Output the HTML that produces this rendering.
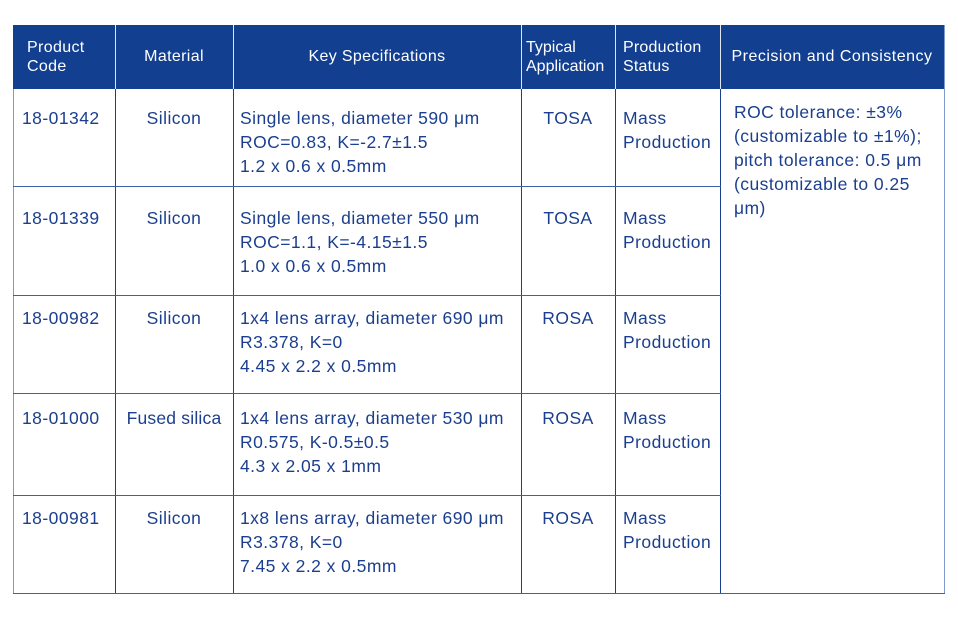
<!DOCTYPE html>
<html><head><meta charset="utf-8"><style>
body{margin:0;width:958px;height:619px;background:#fff;position:relative;font-family:"Liberation Sans",sans-serif;overflow:hidden}
.hd{position:absolute;top:25px;left:13px;width:931px;height:64px;background:#123f8f}
.v{position:absolute;width:1px;background:#1a3f8f}
.h{position:absolute;height:1px;background:#3e62a8}
.t{position:absolute;color:#1b3f8e;font-size:17.5px;letter-spacing:0.45px;line-height:24px;white-space:nowrap}
.w{position:absolute;color:#fff;font-size:16px;letter-spacing:0.35px;line-height:19px;white-space:nowrap}
.c{text-align:center}
</style></head><body>
<div class="hd"></div>
<div class="v" style="left:115px;top:25px;height:64px;background:#dfe6f2"></div>
<div class="v" style="left:233px;top:25px;height:64px;background:#dfe6f2"></div>
<div class="v" style="left:521px;top:25px;height:64px;background:#dfe6f2"></div>
<div class="v" style="left:615px;top:25px;height:64px;background:#dfe6f2"></div>
<div class="v" style="left:720px;top:25px;height:64px;background:#dfe6f2"></div>
<div class="v" style="left:13px;top:89px;height:505px;background:#7f9bcc"></div>
<div class="v" style="left:115px;top:89px;height:505px"></div>
<div class="v" style="left:233px;top:89px;height:505px"></div>
<div class="v" style="left:521px;top:89px;height:505px"></div>
<div class="v" style="left:615px;top:89px;height:505px"></div>
<div class="v" style="left:720px;top:89px;height:505px"></div>
<div class="v" style="left:944px;top:25px;height:569px;background:#7f9bcc"></div>
<div class="h" style="left:13px;top:186px;width:708px"></div>
<div class="h" style="left:13px;top:295px;width:708px"></div>
<div class="h" style="left:13px;top:393px;width:708px"></div>
<div class="h" style="left:13px;top:495px;width:708px"></div>
<div class="h" style="left:13px;top:593px;width:932px"></div>
<div class="w" style="left:27px;top:38px">Product<br>Code</div>
<div class="w c" style="left:115px;width:118px;top:47px">Material</div>
<div class="w c" style="left:233px;width:288px;top:47px">Key Specifications</div>
<div class="w" style="left:526px;top:38px;letter-spacing:0">Typical<br>Application</div>
<div class="w" style="left:623px;top:38px;letter-spacing:0.2px">Production<br>Status</div>
<div class="w c" style="left:720px;width:224px;top:47px;letter-spacing:0.5px">Precision and Consistency</div>

<div class="t" style="left:22px;top:106px">18-01342</div>
<div class="t c" style="left:115px;width:118px;top:106px">Silicon</div>
<div class="t" style="left:240px;top:106px">Single lens, diameter 590 μm<br>ROC=0.83, K=-2.7±1.5<br>1.2 x 0.6 x 0.5mm</div>
<div class="t c" style="left:521px;width:94px;top:106px">TOSA</div>
<div class="t" style="left:623px;top:106px">Mass<br>Production</div>

<div class="t" style="left:22px;top:206px">18-01339</div>
<div class="t c" style="left:115px;width:118px;top:206px">Silicon</div>
<div class="t" style="left:240px;top:206px">Single lens, diameter 550 μm<br>ROC=1.1, K=-4.15±1.5<br>1.0 x 0.6 x 0.5mm</div>
<div class="t c" style="left:521px;width:94px;top:206px">TOSA</div>
<div class="t" style="left:623px;top:206px">Mass<br>Production</div>

<div class="t" style="left:22px;top:306px">18-00982</div>
<div class="t c" style="left:115px;width:118px;top:306px">Silicon</div>
<div class="t" style="left:240px;top:306px">1x4 lens array, diameter 690 μm<br>R3.378, K=0<br>4.45 x 2.2 x 0.5mm</div>
<div class="t c" style="left:521px;width:94px;top:306px">ROSA</div>
<div class="t" style="left:623px;top:306px">Mass<br>Production</div>

<div class="t" style="left:22px;top:406px">18-01000</div>
<div class="t c" style="left:115px;width:118px;top:406px;letter-spacing:0.2px">Fused silica</div>
<div class="t" style="left:240px;top:406px">1x4 lens array, diameter 530 μm<br>R0.575, K-0.5±0.5<br>4.3 x 2.05 x 1mm</div>
<div class="t c" style="left:521px;width:94px;top:406px">ROSA</div>
<div class="t" style="left:623px;top:406px">Mass<br>Production</div>

<div class="t" style="left:22px;top:506px">18-00981</div>
<div class="t c" style="left:115px;width:118px;top:506px">Silicon</div>
<div class="t" style="left:240px;top:506px">1x8 lens array, diameter 690 μm<br>R3.378, K=0<br>7.45 x 2.2 x 0.5mm</div>
<div class="t c" style="left:521px;width:94px;top:506px">ROSA</div>
<div class="t" style="left:623px;top:506px">Mass<br>Production</div>

<div class="t" style="left:734px;top:100px">ROC tolerance: ±3%<br>(customizable to ±1%);<br>pitch tolerance: 0.5 μm<br>(customizable to 0.25<br>μm)</div>
</body></html>
